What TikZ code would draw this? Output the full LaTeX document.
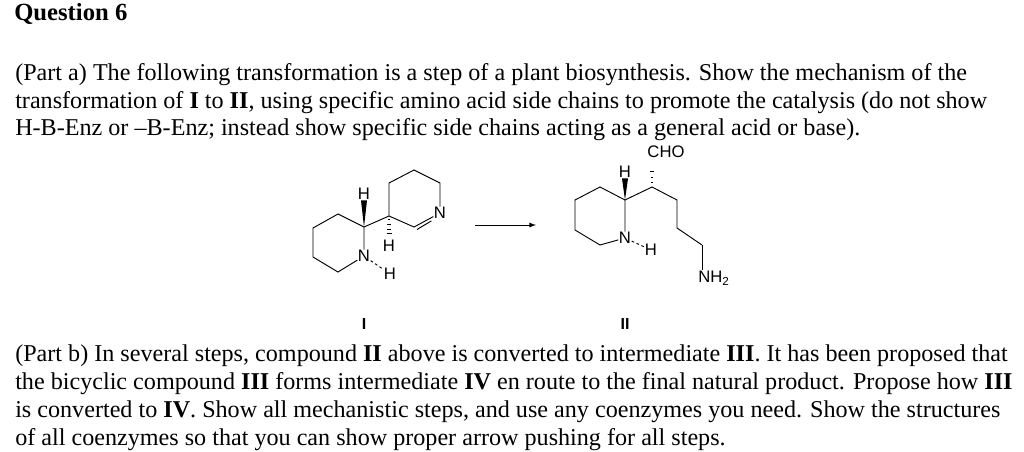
\documentclass[tikz,border=0pt]{standalone}
\usepackage{fontspec}
\setmainfont{Liberation Serif}
\newfontfamily\chemf{Liberation Sans}
\usetikzlibrary{calc}
\begin{document}
\begin{tikzpicture}[x=0.75pt,y=-0.75pt,
  txt/.style={anchor=base west,inner sep=0pt,font=\fontsize{18.1}{22}\selectfont},
  atm/.style={inner sep=0.3pt,font=\chemf\fontsize{12.5}{14}\selectfont,fill=white},
  bd/.style={line width=0.7pt},
  lbl/.style={inner sep=0pt,font=\chemf\bfseries\fontsize{12}{14}\selectfont}]
\useasboundingbox (0,0) rectangle (1024,451);
\node[txt,font=\bfseries\fontsize{18.5}{22}\selectfont] (q) at (14,20) {Question 6};
\node[txt] (l1) at (15,80) {(Part a) The following transformation is a step of a plant biosynthesis. Show the mechanism of the};
\node[txt] (l2) at (15,108) {transformation of \textbf{I} to \textbf{II}, using specific amino acid side chains to promote the catalysis (do not show};
\node[txt] (l3) at (15,135) {H-B-Enz or --B-Enz; instead show specific side chains acting as a general acid or base).};
\node[txt] (l4) at (15,361) {(Part b) In several steps, compound \textbf{II} above is converted to intermediate \textbf{III}. It has been proposed that};
\node[txt] (l5) at (15,389) {the bicyclic compound \textbf{III} forms intermediate \textbf{IV} en route to the final natural product. Propose how \textbf{III}};
\node[txt] (l6) at (15,417) {is converted to \textbf{IV}. Show all mechanistic steps, and use any coenzymes you need. Show the structures};
\node[txt] (l7) at (15,445) {of all coenzymes so that you can show proper arrow pushing for all steps.};
% Compound I
\coordinate (a1) at (338,214);\coordinate (a2) at (364,227);
\coordinate (a4) at (338,272);\coordinate (a5) at (313,257);\coordinate (a6) at (313,228);
\node[atm] (aN) at (364,256) {N};
\draw[bd] (aN) -- (a4) -- (a5) -- (a6) -- (a1) -- (a2) -- (aN);
\node[atm] (aH1) at (364,194) {H};
\fill (a2) -- ($(aH1.south)+(-3,0)$) -- ($(aH1.south)+(3,0)$) -- cycle;
\coordinate (b1) at (389,216);\coordinate (b2) at (389,183);\coordinate (b3) at (414,170);\coordinate (b4) at (440,183);\coordinate (b6) at (414,227);
\node[atm] (bN) at (440,213) {N};
\draw[bd] (a2) -- (b1) -- (b2) -- (b3) -- (b4) -- (bN);
\draw[bd] (bN) -- (b6) -- (b1);
\draw[bd] ($(bN)!0.35!(b6)+(0.5,3)$) -- ($(b6)+(3,2.5)$);
\node[atm] (aH2) at (389,246) {H};
\foreach \t in {0.15,0.35,0.55,0.75}{\draw[line width=0.7pt] ($(b1)!\t!(aH2.north)+(-1-2*\t,0)$) -- ($(b1)!\t!(aH2.north)+(1+2*\t,0)$);}
\node[atm] (aH3) at (390,274) {H};
\draw[bd,dash pattern=on 2pt off 2pt] (aN) -- (aH3);
\node[lbl] (I) at (364,324) {I};
% arrow
\coordinate (r1) at (475,225);\coordinate (r2) at (536,225);
\draw[bd,-latex] (r1) -- (r2);
% Compound II
\coordinate (c1) at (575,200);\coordinate (c2) at (600,187);\coordinate (c3) at (625,200);
\coordinate (c5) at (600,245);\coordinate (c6) at (575,230);
\node[atm] (cN) at (625,238) {N};
\draw[bd] (cN) -- (c3) -- (c2) -- (c1) -- (c6) -- (c5) -- (cN);
\node[atm] (cH1) at (625,172) {H};
\fill (c3) -- ($(cH1.south)+(-3,0)$) -- ($(cH1.south)+(3,0)$) -- cycle;
\coordinate (d1) at (652,187);\coordinate (d2) at (677,200);\coordinate (d3) at (677,228);\coordinate (d4) at (702,245);
\draw[bd] (c3) -- (d1) -- (d2) -- (d3) -- (d4);
\node[atm] (cho) at (666,152) {CHO};
\foreach \t in {0.2,0.45,0.7}{\draw[line width=0.7pt] ($(d1)+(-0.6-1.5*\t,-22*\t)$) -- ($(d1)+(0.6+1.5*\t,-22*\t)$);}
\node[atm] (nh2) at (714,278) {NH\textsubscript{2}};
\draw[bd] (d4) -- (d4 |- nh2.north);
\node[atm] (cH2) at (651,250) {H};
\draw[bd,dash pattern=on 2pt off 2pt] (cN) -- (cH2);
\node[lbl] (II) at (625,324) {II};
\end{tikzpicture}
\end{document}
